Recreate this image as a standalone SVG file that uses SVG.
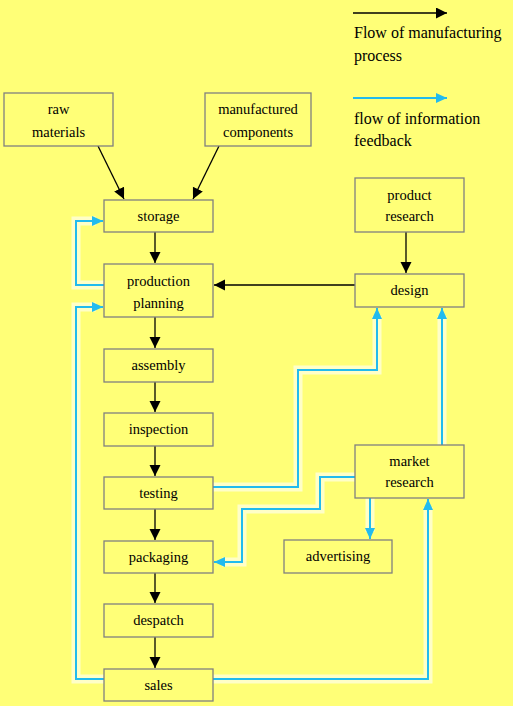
<svg xmlns="http://www.w3.org/2000/svg" width="513" height="706" viewBox="0 0 513 706">
<defs>
<style>
.box{fill:#FFFF77;stroke:#808080;stroke-width:1.3}
.t{font-family:'Liberation Serif','Times New Roman','DejaVu Serif',serif;font-size:14.5px;fill:#000;text-anchor:middle}
.lg{font-family:'Liberation Serif','Times New Roman','DejaVu Serif',serif;font-size:16px;fill:#000}
.bk{fill:none;stroke:#000;stroke-width:1.3}
.bl{fill:none;stroke:#22BBEE;stroke-width:2}
.halo{fill:none;stroke:#FFFFFF;stroke-width:9;stroke-opacity:0.6}
</style>
<marker id="ab" markerUnits="userSpaceOnUse" markerWidth="12" markerHeight="12" refX="11" refY="5.5" orient="auto">
<path d="M0,0 L11,5.5 L0,11 z" fill="#000"/>
</marker>
<marker id="ac" markerUnits="userSpaceOnUse" markerWidth="12" markerHeight="12" refX="11" refY="5" orient="auto">
<path d="M0,0 L11,5 L0,10 z" fill="#22BBEE"/>
</marker>
</defs>
<rect width="513" height="706" fill="#FFFF77"/>

<g id="connectors">
<g id="halos">
<path class="halo" d="M104,285 H76 V221 H96"/>
<path class="halo" d="M104,679 H76 V307 H96"/>
<path class="halo" d="M213,487 H298 V370 H377 V316"/>
<path class="halo" d="M442,445 V316"/>
<path class="halo" d="M355,477 H320 V509 H242 V562 H222"/>
<path class="halo" d="M370,498 V532"/>
<path class="halo" d="M213,679 H428 V507"/>
</g>
<path class="bk" d="M98,146 L124,199" marker-end="url(#ab)"/>
<path class="bk" d="M219,146 L193,199" marker-end="url(#ab)"/>
<path class="bk" d="M155,232 V263" marker-end="url(#ab)"/>
<path class="bk" d="M155,317 V348" marker-end="url(#ab)"/>
<path class="bk" d="M155,382 V412" marker-end="url(#ab)"/>
<path class="bk" d="M155,446 V476" marker-end="url(#ab)"/>
<path class="bk" d="M155,509 V540" marker-end="url(#ab)"/>
<path class="bk" d="M155,573 V603" marker-end="url(#ab)"/>
<path class="bk" d="M155,637 V668" marker-end="url(#ab)"/>
<path class="bk" d="M406,232 V273" marker-end="url(#ab)"/>
<path class="bk" d="M355,285 H214" marker-end="url(#ab)"/>
<path class="bl" d="M104,285 H76 V221 H103" marker-end="url(#ac)"/>
<path class="bl" d="M104,679 H76 V307 H103" marker-end="url(#ac)"/>
<path class="bl" d="M213,487 H298 V370 H377 V308" marker-end="url(#ac)"/>
<path class="bl" d="M442,445 V308" marker-end="url(#ac)"/>
<path class="bl" d="M355,477 H320 V509 H242 V562 H214" marker-end="url(#ac)"/>
<path class="bl" d="M370,498 V539" marker-end="url(#ac)"/>
<path class="bl" d="M213,679 H428 V499" marker-end="url(#ac)"/>
</g>

<g id="legend">
<path class="bk" d="M353,13 H447" marker-end="url(#ab)"/>
<text class="lg" x="354" y="38">Flow of manufacturing</text>
<text class="lg" x="354" y="61">process</text>
<path class="bl" d="M353,98 H447" marker-end="url(#ac)"/>
<text class="lg" x="354" y="124">flow of information</text>
<text class="lg" x="354" y="146">feedback</text>
</g>

<g id="raw-materials"><rect class="box" x="4" y="93" width="109" height="53"/><text class="t" x="58.5" y="114">raw</text><text class="t" x="58.5" y="137">materials</text></g>
<g id="manufactured-components"><rect class="box" x="205" y="93" width="106" height="53"/><text class="t" x="258" y="114">manufactured</text><text class="t" x="258" y="137">components</text></g>
<g id="storage"><rect class="box" x="104" y="200" width="109" height="32"/><text class="t" x="158.5" y="221">storage</text></g>
<g id="production-planning"><rect class="box" x="104" y="264" width="109" height="53"/><text class="t" x="158.5" y="285.5">production</text><text class="t" x="158.5" y="307.5">planning</text></g>
<g id="assembly"><rect class="box" x="104" y="349" width="109" height="33"/><text class="t" x="158.5" y="370">assembly</text></g>
<g id="inspection"><rect class="box" x="104" y="413" width="109" height="33"/><text class="t" x="158.5" y="434">inspection</text></g>
<g id="testing"><rect class="box" x="104" y="477" width="109" height="32"/><text class="t" x="158.5" y="498">testing</text></g>
<g id="packaging"><rect class="box" x="104" y="541" width="109" height="32"/><text class="t" x="158.5" y="562">packaging</text></g>
<g id="despatch"><rect class="box" x="104" y="604" width="109" height="33"/><text class="t" x="158.5" y="625">despatch</text></g>
<g id="sales"><rect class="box" x="104" y="669" width="109" height="32"/><text class="t" x="158.5" y="690">sales</text></g>
<g id="product-research"><rect class="box" x="355" y="178" width="109" height="54"/><text class="t" x="409.5" y="200">product</text><text class="t" x="409.5" y="221">research</text></g>
<g id="design"><rect class="box" x="355" y="274" width="109" height="33"/><text class="t" x="409.5" y="295">design</text></g>
<g id="market-research"><rect class="box" x="355" y="445" width="109" height="53"/><text class="t" x="409.5" y="466">market</text><text class="t" x="409.5" y="487">research</text></g>
<g id="advertising"><rect class="box" x="284" y="540" width="108" height="33"/><text class="t" x="338" y="561">advertising</text></g>
</svg>
